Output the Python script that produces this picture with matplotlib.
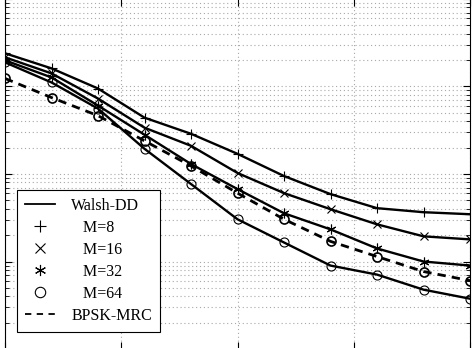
import matplotlib
matplotlib.use('Agg')
import matplotlib.pyplot as plt
import matplotlib.ticker as mtick
from matplotlib.lines import Line2D

snr_db = [0, 2, 4, 6, 8, 10, 12, 14, 16, 18, 20]

ber_m8 = [0.2394, 0.1610, 0.0948, 0.0440, 0.0288, 0.0170, 0.00948, 0.00589, 0.00407, 0.00366, 0.00347]
ber_m16 = [0.2154, 0.1411, 0.0728, 0.0338, 0.0210, 0.01027, 0.00605, 0.00396, 0.00266, 0.00194, 0.00179]
ber_m32 = [0.1990, 0.1269, 0.0605, 0.0281, 0.0130, 0.00672, 0.00356, 0.00233, 0.00141, 0.00100, 0.000899]
ber_m64 = [0.1887, 0.1112, 0.0559, 0.0194, 0.00768, 0.00304, 0.00165, 0.000899, 0.000709, 0.000477, 0.000376]
ber_bpsk = [0.1236, 0.0747, 0.0464, 0.0239, 0.01236, 0.00605, 0.00304, 0.00170, 0.00114, 0.000768, 0.000605]

legend_labels = ['Walsh-DD', '   M=8', '   M=16', '   M=32', '   M=64', 'BPSK-MRC']

plt.rcParams['font.family'] = ['Liberation Serif', 'DejaVu Serif']

fig = plt.figure(figsize=(4.74, 3.48), dpi=100)
ax = fig.add_axes([5 / 474, -0.003, 465 / 474, 1.006])

ax.set_yscale('log')
ax.set_xlim(0, 20)
ax.set_ylim(1e-4, 1)

lw = 1.7
ax.plot(snr_db, ber_m8, color='k', lw=lw, marker='+', ms=7, mew=0.8)
ax.plot(snr_db, ber_m16, color='k', lw=lw, marker='x', ms=6, mew=0.8)
ax.plot(snr_db, ber_m32, color='k', lw=lw, marker=(6, 2, 0), ms=7, mew=0.8)
ax.plot(snr_db, ber_m64, color='k', lw=lw, marker='o', ms=6.5, mew=0.8, mfc='none')
ax.plot(snr_db, ber_bpsk, color='k', lw=2, ls=(0, (3, 2.2)), marker='o', ms=6.5, mew=1.2, mfc='none')

ax.xaxis.set_major_locator(mtick.MultipleLocator(5))
ax.yaxis.set_major_locator(mtick.LogLocator(base=10, numticks=10))
ax.yaxis.set_minor_locator(mtick.LogLocator(base=10, subs=range(2, 10), numticks=20))
ax.yaxis.set_minor_formatter(mtick.NullFormatter())

grid_style = dict(ls=(0, (1, 2.5)), color='#a8a8a8', lw=0.8)
ax.grid(True, which='major', axis='x', **grid_style)
ax.grid(True, which='both', axis='y', **grid_style)

ax.tick_params(which='both', direction='in', top=True, right=True,
               labelbottom=False, labelleft=False, color='k')
ax.tick_params(which='major', length=5, width=0.8)
ax.tick_params(which='minor', length=3, width=0.6)
for s in ax.spines.values():
    s.set_linewidth(0.8)

handles = [
    Line2D([], [], color='k', lw=1.3),
    Line2D([], [], color='k', ls='none', marker='+', ms=8, mew=0.8),
    Line2D([], [], color='k', ls='none', marker='x', ms=7, mew=0.8),
    Line2D([], [], color='k', ls='none', marker=(6, 2, 0), ms=8, mew=0.8),
    Line2D([], [], color='k', ls='none', marker='o', ms=7.5, mew=0.8, mfc='none'),
    Line2D([], [], color='k', lw=1.3, ls=(0, (3.5, 3))),
]
leg = ax.legend(handles, legend_labels, loc='lower left',
                bbox_to_anchor=(12 / 465, 17 / 349), borderaxespad=0,
                fontsize=11.5, fancybox=False, framealpha=1, edgecolor='k',
                handlelength=1.9, labelspacing=0.38, borderpad=0.5,
                handletextpad=1.0)
leg.get_frame().set_linewidth(0.8)

fig.savefig('out.png', dpi=100)
